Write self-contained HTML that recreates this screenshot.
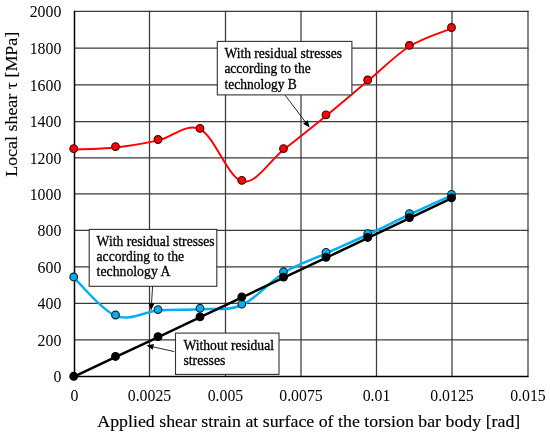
<!DOCTYPE html>
<html><head><meta charset="utf-8"><style>
html,body{margin:0;padding:0;background:#fff;}
svg{display:block;}
text{paint-order:stroke;} .a{stroke:#000;stroke-width:0.3px;} .t{stroke:#000;stroke-width:0.15px;}
</style></head><body>
<svg width="550" height="437" viewBox="0 0 550 437">
<rect width="550" height="437" fill="#fff"/>
<line x1="74.50" y1="339.80" x2="528.60" y2="339.80" stroke="#3a3a3a" stroke-width="1.25"/>
<line x1="74.50" y1="303.40" x2="528.60" y2="303.40" stroke="#3a3a3a" stroke-width="1.25"/>
<line x1="74.50" y1="266.80" x2="528.60" y2="266.80" stroke="#3a3a3a" stroke-width="1.25"/>
<line x1="74.50" y1="230.30" x2="528.60" y2="230.30" stroke="#3a3a3a" stroke-width="1.25"/>
<line x1="74.50" y1="193.90" x2="528.60" y2="193.90" stroke="#3a3a3a" stroke-width="1.25"/>
<line x1="74.50" y1="157.80" x2="528.60" y2="157.80" stroke="#3a3a3a" stroke-width="1.25"/>
<line x1="74.50" y1="121.50" x2="528.60" y2="121.50" stroke="#3a3a3a" stroke-width="1.25"/>
<line x1="74.50" y1="84.80" x2="528.60" y2="84.80" stroke="#3a3a3a" stroke-width="1.25"/>
<line x1="74.50" y1="48.20" x2="528.60" y2="48.20" stroke="#3a3a3a" stroke-width="1.25"/>
<line x1="74.50" y1="11.40" x2="528.60" y2="11.40" stroke="#3a3a3a" stroke-width="1.25"/>
<line x1="149.50" y1="10.80" x2="149.50" y2="376.40" stroke="#3a3a3a" stroke-width="1.25"/>
<line x1="225.50" y1="10.80" x2="225.50" y2="376.40" stroke="#3a3a3a" stroke-width="1.25"/>
<line x1="301.00" y1="10.80" x2="301.00" y2="376.40" stroke="#3a3a3a" stroke-width="1.25"/>
<line x1="376.50" y1="10.80" x2="376.50" y2="376.40" stroke="#3a3a3a" stroke-width="1.25"/>
<line x1="452.00" y1="10.80" x2="452.00" y2="376.40" stroke="#3a3a3a" stroke-width="1.25"/>
<line x1="528.00" y1="10.80" x2="528.00" y2="376.40" stroke="#3a3a3a" stroke-width="1.25"/>
<line x1="74.50" y1="10.80" x2="74.50" y2="377.15" stroke="#000" stroke-width="1.5"/>
<line x1="73.75" y1="376.40" x2="528.60" y2="376.40" stroke="#000" stroke-width="1.5"/>
<path d="M74.00,277.80 C80.97,284.15 101.75,310.45 115.80,315.90 C129.85,321.35 144.22,311.62 158.30,310.50 C172.38,309.38 186.33,310.12 200.30,309.20 C214.27,308.28 228.18,311.08 242.10,305.00 C256.02,298.92 269.77,281.32 283.80,272.70 C297.83,264.08 312.27,259.67 326.30,253.30 C340.33,246.93 354.10,240.97 368.00,234.50 C381.90,228.03 395.73,221.03 409.70,214.50 C423.67,207.97 444.78,198.50 451.80,195.30" fill="none" stroke="#00b0f0" stroke-width="2.50" stroke-linejoin="round"/><circle cx="73.70" cy="276.90" r="3.85" fill="#00b0f0" stroke="#0a2530" stroke-width="1.15"/><circle cx="115.50" cy="315.00" r="3.85" fill="#00b0f0" stroke="#0a2530" stroke-width="1.15"/><circle cx="158.00" cy="309.60" r="3.85" fill="#00b0f0" stroke="#0a2530" stroke-width="1.15"/><circle cx="200.00" cy="308.30" r="3.85" fill="#00b0f0" stroke="#0a2530" stroke-width="1.15"/><circle cx="241.80" cy="304.10" r="3.85" fill="#00b0f0" stroke="#0a2530" stroke-width="1.15"/><circle cx="283.50" cy="271.80" r="3.85" fill="#00b0f0" stroke="#0a2530" stroke-width="1.15"/><circle cx="326.00" cy="252.40" r="3.85" fill="#00b0f0" stroke="#0a2530" stroke-width="1.15"/><circle cx="367.70" cy="233.60" r="3.85" fill="#00b0f0" stroke="#0a2530" stroke-width="1.15"/><circle cx="409.40" cy="213.60" r="3.85" fill="#00b0f0" stroke="#0a2530" stroke-width="1.15"/><circle cx="451.50" cy="194.40" r="3.85" fill="#00b0f0" stroke="#0a2530" stroke-width="1.15"/>
<path d="M74.00,376.70 L115.80,356.87 L158.30,337.04 L200.30,317.21 L242.10,297.38 L283.80,277.55 L326.30,257.72 L368.00,237.89 L409.70,218.06 L451.80,198.23" fill="none" stroke="#000000" stroke-width="2.50" stroke-linejoin="round"/><circle cx="73.70" cy="376.30" r="3.85" fill="#000000" stroke="#000000" stroke-width="1.15"/><circle cx="115.50" cy="356.47" r="3.85" fill="#000000" stroke="#000000" stroke-width="1.15"/><circle cx="158.00" cy="336.64" r="3.85" fill="#000000" stroke="#000000" stroke-width="1.15"/><circle cx="200.00" cy="316.81" r="3.85" fill="#000000" stroke="#000000" stroke-width="1.15"/><circle cx="241.80" cy="296.98" r="3.85" fill="#000000" stroke="#000000" stroke-width="1.15"/><circle cx="283.50" cy="277.15" r="3.85" fill="#000000" stroke="#000000" stroke-width="1.15"/><circle cx="326.00" cy="257.32" r="3.85" fill="#000000" stroke="#000000" stroke-width="1.15"/><circle cx="367.70" cy="237.49" r="3.85" fill="#000000" stroke="#000000" stroke-width="1.15"/><circle cx="409.40" cy="217.66" r="3.85" fill="#000000" stroke="#000000" stroke-width="1.15"/><circle cx="451.50" cy="197.83" r="3.85" fill="#000000" stroke="#000000" stroke-width="1.15"/>
<path d="M74.00,149.50 C80.97,149.17 101.75,149.02 115.80,147.50 C129.85,145.98 144.22,143.43 158.30,140.40 C172.38,137.37 186.33,122.48 200.30,129.30 C214.27,136.12 228.18,177.93 242.10,181.30 C256.02,184.67 269.77,160.43 283.80,149.50 C297.83,138.57 312.27,127.15 326.30,115.70 C340.33,104.25 354.10,92.37 368.00,80.80 C381.90,69.23 395.73,55.03 409.70,46.30 C423.67,37.57 444.78,31.38 451.80,28.40" fill="none" stroke="#ff0000" stroke-width="1.90" stroke-linejoin="round"/><circle cx="73.70" cy="148.60" r="3.85" fill="#ff0000" stroke="#3a0808" stroke-width="1.15"/><circle cx="115.50" cy="146.60" r="3.85" fill="#ff0000" stroke="#3a0808" stroke-width="1.15"/><circle cx="158.00" cy="139.50" r="3.85" fill="#ff0000" stroke="#3a0808" stroke-width="1.15"/><circle cx="200.00" cy="128.40" r="3.85" fill="#ff0000" stroke="#3a0808" stroke-width="1.15"/><circle cx="241.80" cy="180.40" r="3.85" fill="#ff0000" stroke="#3a0808" stroke-width="1.15"/><circle cx="283.50" cy="148.60" r="3.85" fill="#ff0000" stroke="#3a0808" stroke-width="1.15"/><circle cx="326.00" cy="114.80" r="3.85" fill="#ff0000" stroke="#3a0808" stroke-width="1.15"/><circle cx="367.70" cy="79.90" r="3.85" fill="#ff0000" stroke="#3a0808" stroke-width="1.15"/><circle cx="409.40" cy="45.40" r="3.85" fill="#ff0000" stroke="#3a0808" stroke-width="1.15"/><circle cx="451.50" cy="27.50" r="3.85" fill="#ff0000" stroke="#3a0808" stroke-width="1.15"/>
<text x="61.3" y="382.20" text-anchor="end" font-size="15.80" font-family="Liberation Serif, serif">0</text>
<text x="61.3" y="345.60" text-anchor="end" font-size="15.80" font-family="Liberation Serif, serif">200</text>
<text x="61.3" y="309.20" text-anchor="end" font-size="15.80" font-family="Liberation Serif, serif">400</text>
<text x="61.3" y="272.60" text-anchor="end" font-size="15.80" font-family="Liberation Serif, serif">600</text>
<text x="61.3" y="236.10" text-anchor="end" font-size="15.80" font-family="Liberation Serif, serif">800</text>
<text x="61.3" y="199.70" text-anchor="end" font-size="15.80" font-family="Liberation Serif, serif">1000</text>
<text x="61.3" y="163.60" text-anchor="end" font-size="15.80" font-family="Liberation Serif, serif">1200</text>
<text x="61.3" y="127.30" text-anchor="end" font-size="15.80" font-family="Liberation Serif, serif">1400</text>
<text x="61.3" y="90.60" text-anchor="end" font-size="15.80" font-family="Liberation Serif, serif">1600</text>
<text x="61.3" y="54.00" text-anchor="end" font-size="15.80" font-family="Liberation Serif, serif">1800</text>
<text x="61.3" y="17.20" text-anchor="end" font-size="15.80" font-family="Liberation Serif, serif">2000</text>
<text x="74.50" y="400.6" text-anchor="middle" font-size="15.80" font-family="Liberation Serif, serif">0</text>
<text x="149.50" y="400.6" text-anchor="middle" font-size="15.80" font-family="Liberation Serif, serif">0.0025</text>
<text x="225.50" y="400.6" text-anchor="middle" font-size="15.80" font-family="Liberation Serif, serif">0.005</text>
<text x="301.00" y="400.6" text-anchor="middle" font-size="15.80" font-family="Liberation Serif, serif">0.0075</text>
<text x="376.50" y="400.6" text-anchor="middle" font-size="15.80" font-family="Liberation Serif, serif">0.01</text>
<text x="452.00" y="400.6" text-anchor="middle" font-size="15.80" font-family="Liberation Serif, serif">0.0125</text>
<text x="528.00" y="400.6" text-anchor="middle" font-size="15.80" font-family="Liberation Serif, serif">0.015</text>
<text class="t" x="97.3" y="427" font-size="17.4" textLength="423" lengthAdjust="spacingAndGlyphs" font-family="Liberation Serif, serif">Applied shear strain at surface of the torsion bar body [rad]</text>
<text class="t" transform="translate(16.8,176.8) rotate(-90)" font-size="17.5" textLength="145" lengthAdjust="spacingAndGlyphs" font-family="Liberation Serif, serif">Local shear &#964; [MPa]</text>
<rect x="217.30" y="41.40" width="134.60" height="53.50" fill="#fff" stroke="#333" stroke-width="1.1"/><text class="a" x="224.40" y="58.10" font-size="14.20" textLength="117.60" lengthAdjust="spacingAndGlyphs" font-family="Liberation Serif, serif">With residual stresses</text><text class="a" x="224.40" y="73.30" font-size="14.20" textLength="86.30" lengthAdjust="spacingAndGlyphs" font-family="Liberation Serif, serif">according to the</text><text class="a" x="224.40" y="88.50" font-size="14.20" textLength="72.50" lengthAdjust="spacingAndGlyphs" font-family="Liberation Serif, serif">technology B</text>
<line x1="285.00" y1="95.00" x2="305.38" y2="122.01" stroke="#111" stroke-width="0.9"/><path d="M309.60,127.60 L303.07,123.76 L307.70,120.27 Z" fill="#000"/>
<rect x="89.20" y="229.40" width="127.60" height="56.90" fill="#fff" stroke="#333" stroke-width="1.1"/><text class="a" x="96.60" y="245.60" font-size="14.20" textLength="118.00" lengthAdjust="spacingAndGlyphs" font-family="Liberation Serif, serif">With residual stresses</text><text class="a" x="96.60" y="261.00" font-size="14.20" textLength="87.50" lengthAdjust="spacingAndGlyphs" font-family="Liberation Serif, serif">according to the</text><text class="a" x="96.60" y="276.40" font-size="14.20" textLength="73.80" lengthAdjust="spacingAndGlyphs" font-family="Liberation Serif, serif">technology A</text>
<line x1="152.60" y1="286.30" x2="151.53" y2="303.41" stroke="#111" stroke-width="0.9"/><path d="M151.10,310.40 L148.64,303.23 L154.43,303.59 Z" fill="#000"/>
<rect x="175.50" y="333.10" width="103.50" height="41.30" fill="#fff" stroke="#333" stroke-width="1.1"/><text class="a" x="183.40" y="350.20" font-size="14.20" textLength="90.60" lengthAdjust="spacingAndGlyphs" font-family="Liberation Serif, serif">Without residual</text><text class="a" x="183.40" y="364.90" font-size="14.20" textLength="42.00" lengthAdjust="spacingAndGlyphs" font-family="Liberation Serif, serif">stresses</text>
<line x1="174.30" y1="351.60" x2="153.33" y2="346.92" stroke="#111" stroke-width="0.9"/><path d="M146.50,345.40 L153.96,344.09 L152.70,349.75 Z" fill="#000"/>
</svg>
</body></html>
